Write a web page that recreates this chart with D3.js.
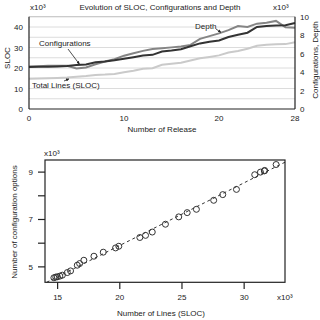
<!DOCTYPE html>
<html><head><meta charset="utf-8">
<script src="https://cdn.jsdelivr.net/npm/d3@7/dist/d3.min.js"></script>
<style>
html,body{margin:0;padding:0;background:#fff;}
svg text{font-family:"Liberation Sans",Arial,sans-serif;fill:#222;}
</style></head>
<body>
<svg id="c" width="320" height="320"></svg>
<script>
// ---- data (thousands) ----
const releases = d3.range(0, 29);
const slocK = [14.70,14.85,14.98,15.18,15.38,15.78,16.04,16.58,16.77,17.11,17.92,18.67,19.66,19.92,21.61,22.07,22.61,23.67,24.74,25.42,26.16,27.55,28.28,29.38,30.85,31.31,31.62,31.65,32.57];
const configK = [4.54,4.57,4.58,4.61,4.65,4.76,4.83,5.07,5.14,5.28,5.45,5.62,5.80,5.87,6.24,6.33,6.47,6.80,7.11,7.29,7.43,7.81,8.05,8.27,8.89,9.00,9.05,9.07,9.32];
const depthK = [4.62,4.64,4.68,4.70,4.68,4.40,4.50,4.85,5.15,5.40,5.78,6.05,6.30,6.50,6.58,6.68,6.78,6.95,7.60,7.90,8.20,8.55,9.00,8.90,9.25,9.35,9.55,8.85,8.80];
const topXTicks = [0,10,20,28];
const leftTicks = [0,10,20,30,40];
const rightTicks = [0,2,4,6,8,10];
const gridVals = [5,10,15,20,25,30,35,40];
const scatXTicks = [15,20,25,30];
const scatYTicks = [5,6,7,8,9];
const scatYLabels = [5,7,9];

const svg = d3.select("#c");
const FS = 8;

// ---------- top chart ----------
const tx = d3.scaleLinear().domain([0,28]).range([29,295]);
const tyL = d3.scaleLinear().domain([0,45]).range([109,16.75]);
const tyR = d3.scaleLinear().domain([0,10]).range([109,16.75]);

const topG = svg.append("g");
topG.selectAll("line.grid").data(gridVals).join("line")
  .attr("x1",tx(0)).attr("x2",tx(28))
  .attr("y1",d=>tyL(d)).attr("y2",d=>tyL(d))
  .attr("stroke","#dcdcdc").attr("stroke-width",1);
topG.append("line").attr("x1",tx(0)).attr("x2",tx(28)).attr("y1",tyL(45)).attr("y2",tyL(45))
  .attr("stroke","#bbb").attr("stroke-width",1);

const lineL = d3.line().x((d,i)=>tx(releases[i])).y(d=>tyL(d));
const lineR = d3.line().x((d,i)=>tx(releases[i])).y(d=>tyR(d));
topG.append("path").attr("d",lineL(slocK)).attr("fill","none").attr("stroke","#cacaca").attr("stroke-width",2);
topG.append("path").attr("d",lineR(depthK)).attr("fill","none").attr("stroke","#858585").attr("stroke-width",2);
topG.append("path").attr("d",lineR(configK)).attr("fill","none").attr("stroke","#333").attr("stroke-width",2);

// axes lines
topG.append("line").attr("x1",tx(0)).attr("x2",tx(0)).attr("y1",tyL(45)).attr("y2",tyL(0)).attr("stroke","#222").attr("stroke-width",1.2);
topG.append("line").attr("x1",tx(28)).attr("x2",tx(28)).attr("y1",tyL(45)).attr("y2",tyL(0)).attr("stroke","#222").attr("stroke-width",1.2);
topG.append("line").attr("x1",tx(0)).attr("x2",tx(28)).attr("y1",tyL(0)).attr("y2",tyL(0)).attr("stroke","#222").attr("stroke-width",1.2);

topG.selectAll("text.lt").data(leftTicks).join("text")
  .attr("x",23).attr("y",d=>tyL(d)+3).attr("text-anchor","end").attr("font-size",FS).text(d=>d);
topG.selectAll("text.rt").data(rightTicks).join("text")
  .attr("x",300).attr("y",d=>tyR(d)+3).attr("text-anchor","start").attr("font-size",FS).text(d=>d);
topG.selectAll("text.xt").data(topXTicks).join("text")
  .attr("x",d=>tx(d)).attr("y",121).attr("text-anchor","middle").attr("font-size",FS).text(d=>d);

topG.append("text").attr("x",160).attr("y",10).attr("text-anchor","middle").attr("font-size",FS).text("Evolution of SLOC, Configurations and Depth");
topG.append("text").attr("x",30).attr("y",10).attr("font-size",FS).text("x10³");
topG.append("text").attr("x",273).attr("y",10).attr("font-size",FS).text("x10³");
topG.append("text").attr("x",162).attr("y",132).attr("text-anchor","middle").attr("font-size",FS).text("Number of Release");
topG.append("text").attr("transform","translate(10,58) rotate(-90)").attr("text-anchor","middle").attr("font-size",FS).text("SLOC");
topG.append("text").attr("transform","translate(318,60) rotate(-90)").attr("text-anchor","middle").attr("font-size",FS).text("Configurations, Depth");

// annotations
svg.append("defs").append("marker").attr("id","ah").attr("viewBox","0 0 10 10")
  .attr("refX",9).attr("refY",5).attr("markerWidth",4).attr("markerHeight",4).attr("orient","auto")
  .append("path").attr("d","M0,0L10,5L0,10z").attr("fill","#222");
function ann(label, lx, ly, x1,y1,x2,y2){
  topG.append("text").attr("x",lx).attr("y",ly).attr("font-size",FS).text(label);
  topG.append("line").attr("x1",x1).attr("y1",y1).attr("x2",x2).attr("y2",y2)
    .attr("stroke","#222").attr("stroke-width",0.8).attr("marker-end","url(#ah)");
}
ann("Configurations", 39, 46, 68, 49, tx(5.3), tyR(configK[5])-1);
ann("Depth", 195, 29, 216, 29, tx(20.2), tyR(depthK[20])-1);
ann("Total Lines (SLOC)", 32, 88, 64, 81, tx(4.2), tyL(slocK[4])+1.5);

// ---------- bottom scatter ----------
const xe = d3.extent(slocK), ye = d3.extent(configK);
const xp = (xe[1]-xe[0])*0.04, yp = (ye[1]-ye[0])*0.04;
const sx = d3.scaleLinear().domain([xe[0]-xp, xe[1]+xp]).range([45,285]);
const sy = d3.scaleLinear().domain([ye[0]-yp, ye[1]+yp]).range([282.3,160]);
const bot = svg.append("g");

// regression line
const n = slocK.length;
const mx = d3.mean(slocK), my = d3.mean(configK);
let sxy=0, sxx=0;
for(let i=0;i<n;i++){ sxy += (slocK[i]-mx)*(configK[i]-my); sxx += (slocK[i]-mx)**2; }
const b = sxy/sxx, a = my - b*mx;
const dx = sx.domain();
let x0 = dx[0], x1 = dx[1];
const yd = sy.domain();
x0 = Math.max(x0, (yd[0]-a)/b); x1 = Math.min(x1, (yd[1]-a)/b);
bot.append("line").attr("x1",sx(x0)).attr("y1",sy(a+b*x0)).attr("x2",sx(x1)).attr("y2",sy(a+b*x1))
  .attr("stroke","#333").attr("stroke-width",1).attr("stroke-dasharray","3,3");

bot.selectAll("circle").data(slocK).join("circle")
  .attr("cx",d=>sx(d)).attr("cy",(d,i)=>sy(configK[i])).attr("r",3)
  .attr("fill","none").attr("stroke","#333").attr("stroke-width",1);

bot.append("rect").attr("x",45).attr("y",160).attr("width",240).attr("height",122.3)
  .attr("fill","none").attr("stroke","#222").attr("stroke-width",1.2);

bot.selectAll("line.yt").data(scatYTicks).join("line")
  .attr("x1",38).attr("x2",45).attr("y1",d=>sy(d)).attr("y2",d=>sy(d)).attr("stroke","#222").attr("stroke-width",1.2);
bot.selectAll("text.yl").data(scatYLabels).join("text")
  .attr("x",33).attr("y",d=>sy(d)+3).attr("text-anchor","end").attr("font-size",FS).text(d=>d);
bot.selectAll("line.xt").data(scatXTicks).join("line")
  .attr("x1",d=>sx(d)).attr("x2",d=>sx(d)).attr("y1",282.3).attr("y2",289).attr("stroke","#222").attr("stroke-width",1.2);
bot.selectAll("text.xl").data(scatXTicks).join("text")
  .attr("x",d=>sx(d)).attr("y",300).attr("text-anchor","middle").attr("font-size",FS).text(d=>d);

bot.append("text").attr("x",277).attr("y",300).attr("font-size",FS).text("x10³");
bot.append("text").attr("x",44).attr("y",156).attr("font-size",FS).text("x10³");
bot.append("text").attr("x",161).attr("y",316).attr("text-anchor","middle").attr("font-size",FS).text("Number of Lines (SLOC)");
bot.append("text").attr("transform","translate(17,222) rotate(-90)").attr("text-anchor","middle").attr("font-size",FS).text("Number of configuration options");
</script>
</body></html>
